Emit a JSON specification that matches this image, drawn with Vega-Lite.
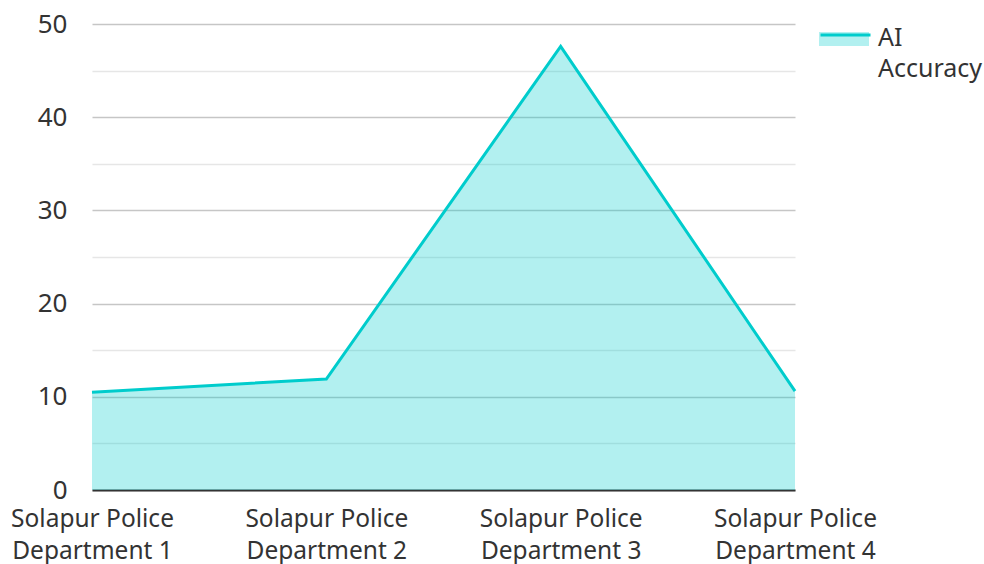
{
  "$schema": "https://vega.github.io/schema/vega-lite/v6.json",
  "autosize": "none",
  "width": 703,
  "height": 466,
  "padding": {"left": 92, "top": 24, "right": 189, "bottom": 74},
  "background": "white",
  "config": {
    "font": "Noto Sans",
    "view": {"stroke": null},
    "axis": {"labelFont": "Noto Sans", "labelFontSize": 24.5, "labelColor": "#333333", "ticks": false, "title": null},
    "legend": {"padding": 0, "labelFont": "Noto Sans", "labelFontSize": 25, "labelColor": "#333333"},
    "style": {"guide-label": {"lineHeight": 31}}
  },
  "data": {
    "values": [
      {"department": "Solapur Police Department 1", "accuracy": 10.5, "series": "AI Accuracy"},
      {"department": "Solapur Police Department 2", "accuracy": 11.9, "series": "AI Accuracy"},
      {"department": "Solapur Police Department 3", "accuracy": 47.6, "series": "AI Accuracy"},
      {"department": "Solapur Police Department 4", "accuracy": 10.6, "series": "AI Accuracy"}
    ]
  },
  "encoding": {
    "x": {
      "field": "department",
      "type": "nominal",
      "sort": null,
      "scale": {"type": "point", "padding": 0},
      "axis": {
        "labelAngle": 0,
        "labelAlign": "center",
        "labelBaseline": "top",
        "labelPadding": 17,
        "labelLineHeight": 32,
        "labelOverlap": false,
        "labelBound": false,
        "labelFlush": false,
        "labelLimit": 400,
        "labelExpr": "[slice(datum.label, 0, 14), slice(datum.label, 15)]",
        "domainColor": "#333333",
        "domainWidth": 2,
        "grid": false
      }
    },
    "y": {
      "field": "accuracy",
      "type": "quantitative",
      "scale": {"domain": [0, 50], "nice": false},
      "axis": {
        "values": [0, 5, 10, 15, 20, 25, 30, 35, 40, 45, 50],
        "labelExpr": "datum.value % 10 === 0 ? datum.label : ''",
        "labelFontSize": 26,
        "labelPadding": 25,
        "domain": false,
        "grid": true,
        "gridColor": {"condition": {"test": "datum.value % 10 === 0", "value": "#c6c6c6"}, "value": "#e6e6e6"},
        "gridWidth": 1.5
      }
    }
  },
  "layer": [
    {
      "mark": {"type": "area", "fillOpacity": 0.3},
      "encoding": {
        "fill": {
          "field": "series",
          "type": "nominal",
          "scale": {"domain": ["AI Accuracy"], "range": ["#00cccc"]},
          "legend": {
            "title": null,
            "orient": "none",
            "legendX": 727,
            "legendY": -11,
            "symbolType": "M-1,-0.24H1V0.32H-1Z",
            "symbolSize": 2500,
            "symbolStrokeWidth": 0,
            "symbolOpacity": 0.3,
            "labelOffset": 9,
            "labelExpr": "['AI', 'Accuracy']",
            "labelLimit": 200
          }
        }
      }
    },
    {
      "mark": {"type": "line", "strokeWidth": 3, "color": "#00cccc"},
      "encoding": {
        "stroke": {
          "field": "series",
          "type": "nominal",
          "scale": {"domain": ["AI Accuracy", "_"], "range": ["#00cccc", "#00cccc"]},
          "legend": {
            "title": null,
            "orient": "none",
            "legendX": 727,
            "legendY": -11,
            "values": ["AI Accuracy"],
            "symbolType": "M-1,-0.18H1",
            "symbolSize": 2500,
            "symbolStrokeWidth": 3,
            "symbolFillColor": "transparent",
            "symbolOpacity": 1,
            "labelOffset": 9,
            "labelExpr": "['', '']",
            "labelLimit": 200
          }
        }
      }
    }
  ]
}
